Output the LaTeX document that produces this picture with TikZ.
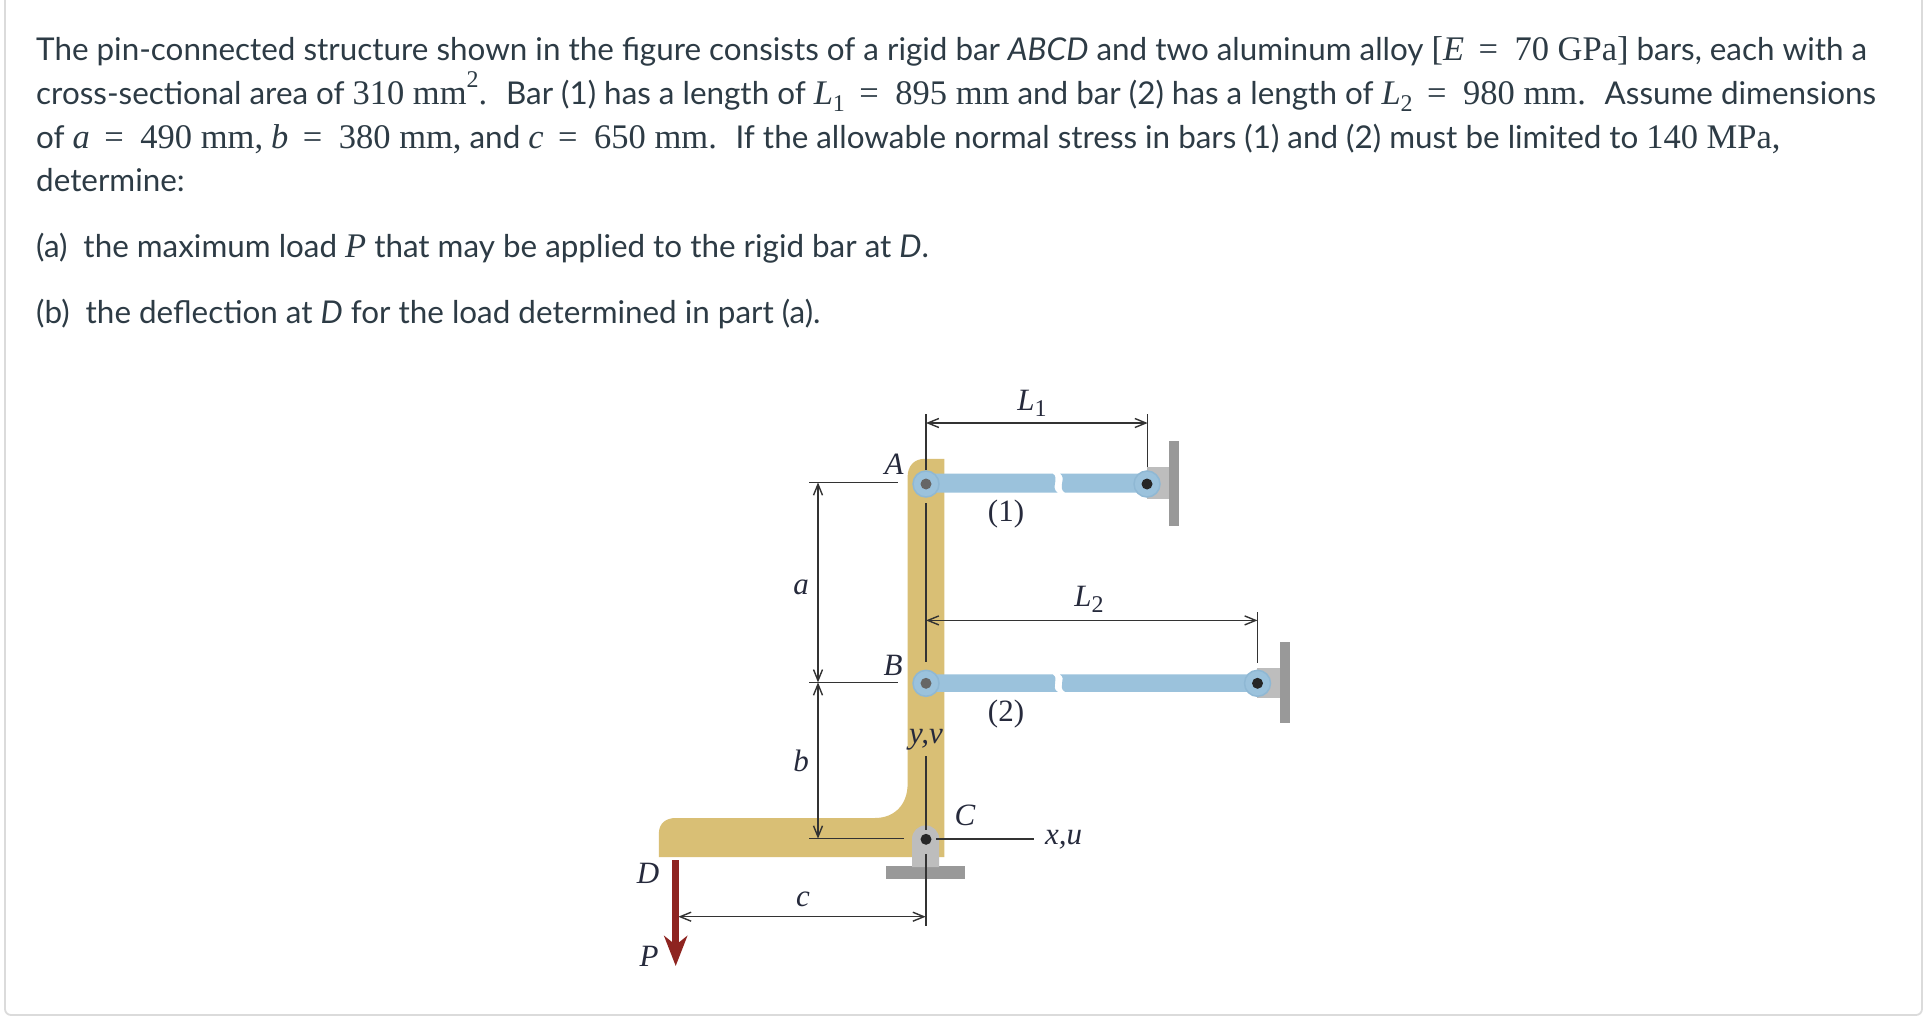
\documentclass[tikz,border=0pt]{standalone}
\usepackage{fontspec}
\usetikzlibrary{arrows.meta}
\setmainfont{Lato}
\newfontfamily\mjx{Liberation Serif}
\newcommand{\mj}[1]{{\mjx\fontsize{34.5}{36}\selectfont #1}}
\newcommand{\mi}[1]{{\mjx\itshape\fontsize{34.5}{36}\selectfont #1}}
\newcommand{\eqs}{\mj{\hspace{0.42em}=\hspace{0.48em}}}
\newcommand{\sbs}[1]{\raisebox{-0.2em}{\mjx\upshape\fontsize{24}{24}\selectfont #1}}
\newcommand{\sps}[1]{\raisebox{0.5em}{\mjx\upshape\fontsize{24}{24}\selectfont #1}}
\definecolor{inktext}{HTML}{2D3B45}
\definecolor{inkfig}{HTML}{262A3C}
\definecolor{goldbar}{HTML}{D9BF75}
\definecolor{bluebar}{HTML}{9BC2DC}
\definecolor{bluepin}{HTML}{8FB8D4}
\definecolor{greyplate}{HTML}{999999}
\definecolor{greyblock}{HTML}{BDBDBD}
\definecolor{redload}{HTML}{8E2420}
\tikzset{
  textline/.style={anchor=base west,inner sep=0pt,text=inktext,font=\fontsize{31.4}{36}\selectfont},
  figlabel/.style={inner sep=0pt,text=inkfig,font=\mjx\itshape\fontsize{31}{32}\selectfont},
  figroman/.style={inner sep=0pt,text=inkfig,font=\mjx\fontsize{31}{32}\selectfont},
  dimline/.style={draw=black!80,line width=1.4pt},
  dimarrow/.style={dimline,{Straight Barb[length=11pt,width=9pt]}-{Straight Barb[length=11pt,width=9pt]}},
  pinring/.style={circle,fill=bluebar,draw=bluepin,line width=1.5pt,minimum size=26pt,inner sep=0pt},
  pindot/.style={circle,fill=#1,minimum size=11pt,inner sep=0pt},
}
\begin{document}
\begin{tikzpicture}[x=1pt,y=-1pt]
 \useasboundingbox (0,0) rectangle (1926,1022);
 \fill[white] (0,0) rectangle (1926,1022);
 \draw[black!14,line width=1.8pt,rounded corners=6pt] (5,-20)--(5,1015)--(1922,1015)--(1922,-20);

 \node[textline] (line1) at (36,60.6) {The pin-connected structure shown in the figure consists of a rigid bar \textit{ABCD} and two aluminum alloy \mj{[}\mi{E}\eqs\mj{70 GPa]} bars, each with a};
 \node[textline] (line2) at (36,104.8) {cross-sectional area of \mj{310 mm\sps{2}.} \ Bar (1) has a length of \mi{L}\sbs{1}\eqs\mj{895 mm} and bar (2) has a length of \mi{L}\sbs{2}\eqs\mj{980 mm.} \ Assume dimensions};
 \node[textline] (line3) at (36,148.8) {of \mi{a}\eqs\mj{490 mm,} \mi{b}\eqs\mj{380 mm,} and \mi{c}\eqs\mj{650 mm.} \ If the allowable normal stress in bars (1) and (2) must be limited to \mj{140 MPa,}};
 \node[textline] (line4) at (36,191.8) {determine:};
 \node[textline] (parta) at (36,257.8) {(a) \ the maximum load \mi{P} that may be applied to the rigid bar at \textit{D}.};
 \node[textline] (partb) at (36,323.8) {(b) \ the deflection at \textit{D} for the load determined in part (a).};

 \fill[goldbar] (944.4,458.8)--(944.4,857)--(658.8,857)--(658.8,834) .. controls (658.8,823) and (666,818) .. (676,818)
   --(875,818) .. controls (895,818) and (907.6,804) .. (907.6,784)--(907.6,477) .. controls (907.6,466) and (914,458.8) .. (925,458.8)--cycle;

 \fill[greyblock] (1147,466.7) rectangle (1169,499.3);
 \fill[greyplate] (1169.3,441) rectangle (1178.7,525.7);
 \fill[greyblock] (1257,668) rectangle (1280,698);
 \fill[greyplate] (1280.4,642.4) rectangle (1290,723.3);
 \fill[greyplate] (886,866) rectangle (965,879.3);
 \fill[greyblock] (912,867)--(912,839) arc[start angle=180,end angle=360,radius=13.6]--(939.2,867)--cycle;

 \fill[bluebar] (926,473.5)--(1052.7,473.5) .. controls (1060,478) and (1050,488) .. (1057.7,492.7)--(926,492.7)--cycle;
 \fill[bluebar] (1060,473.5)--(1147,473.5)--(1147,492.7)--(1065,492.7) .. controls (1057,488) and (1067,478) .. (1060,473.5)--cycle;
 \fill[bluebar] (926,674.3)--(1052.7,674.3) .. controls (1060,679) and (1050,687) .. (1057.7,691.9)--(926,691.9)--cycle;
 \fill[bluebar] (1060,674.3)--(1257,674.3)--(1257,691.9)--(1065,691.9) .. controls (1057,687) and (1067,679) .. (1060,674.3)--cycle;

 \node[pinring] (pinA) at (926,484) {};
 \node[pinring] (pinE) at (1147,484) {};
 \node[pinring] (pinB) at (926,683.3) {};
 \node[pinring] (pinF) at (1257.5,683.3) {};
 \node[pindot=black!60] (dotA) at (pinA) {};
 \node[pindot=black!85] (dotE) at (pinE) {};
 \node[pindot=black!60] (dotB) at (pinB) {};
 \node[pindot=black!85] (dotF) at (pinF) {};
 \node[pindot=black!85] (pinC) at (926,839.3) {};

 \coordinate (aTop) at (926,414);
 \coordinate (aEnd) at (926,470);
 \coordinate (eTop) at (1147.7,414);
 \coordinate (eEnd) at (1147.7,467);
 \coordinate (lOneL) at (926,423);
 \coordinate (lOneR) at (1147.7,423);
 \coordinate (lTwoL) at (926,620.4);
 \coordinate (lTwoR) at (1257.5,620.4);
 \coordinate (fTop) at (1257.5,612);
 \coordinate (fEnd) at (1257.5,663);
 \coordinate (axisA) at (926,503);
 \coordinate (axisB) at (926,661.5);
 \coordinate (axisY) at (926,756);
 \coordinate (axisC) at (926,830);
 \coordinate (axisD) at (926,854);
 \coordinate (axisE) at (926,925.5);
 \coordinate (axisXa) at (936,839);
 \coordinate (axisXb) at (1034,839);
 \coordinate (tickAa) at (809,482.4);
 \coordinate (tickAb) at (898.4,482.4);
 \coordinate (tickBa) at (809,682.4);
 \coordinate (tickBb) at (898.4,682.4);
 \coordinate (tickCa) at (809,838.6);
 \coordinate (tickCb) at (904.4,838.6);
 \coordinate (dimAt) at (818,482.4);
 \coordinate (dimAb) at (818,682.4);
 \coordinate (dimBb) at (818,838.6);
 \coordinate (dimCl) at (678.3,916.7);
 \coordinate (dimCr) at (925.7,916.7);
 \coordinate (loadT) at (675.7,860);
 \coordinate (loadB) at (675.7,966);

 \draw[dimline] (aTop)--(aEnd);
 \draw[dimline] (eTop)--(eEnd);
 \draw[dimline] (fTop)--(fEnd);
 \draw[dimline] (axisA)--(axisB);
 \draw[dimline] (axisY)--(axisC);
 \draw[dimline] (axisD)--(axisE);
 \draw[dimline] (axisXa)--(axisXb);
 \draw[dimline] (tickAa)--(tickAb);
 \draw[dimline] (tickBa)--(tickBb);
 \draw[dimline] (tickCa)--(tickCb);
 \draw[dimarrow] (lOneL)--(lOneR);
 \draw[dimarrow] (lTwoL)--(lTwoR);
 \draw[dimarrow] (dimAt)--(dimAb);
 \draw[dimarrow] (dimAb)--(dimBb);
 \draw[dimarrow] (dimCl)--(dimCr);
 \draw[redload,line width=6.5pt,-{Stealth[length=30pt,width=23pt,inset=9pt]}] (loadT)--(loadB);

 \node[figlabel] (labL1) at (1032,403) {L\sbs{1}};
 \node[figlabel] (labL2) at (1089,599) {L\sbs{2}};
 \node[figlabel] (labA) at (894,464) {A};
 \node[figlabel] (labB) at (893,665) {B};
 \node[figlabel] (labC) at (965,815) {C};
 \node[figlabel] (labD) at (648,873.5) {D};
 \node[figlabel] (labP) at (649,956) {P};
 \node[figlabel] (laba) at (801,587) {a};
 \node[figlabel] (labb) at (801,761) {b};
 \node[figlabel] (labc) at (803,899.6) {c};
 \node[figroman] (labbar1) at (1006,514) {(1)};
 \node[figroman] (labbar2) at (1006,714) {(2)};
 \node[figlabel] (labyv) at (926,739.6) {y,v};
 \node[figlabel] (labxu) at (1063.7,839.5) {x,u};
\end{tikzpicture}
\end{document}
